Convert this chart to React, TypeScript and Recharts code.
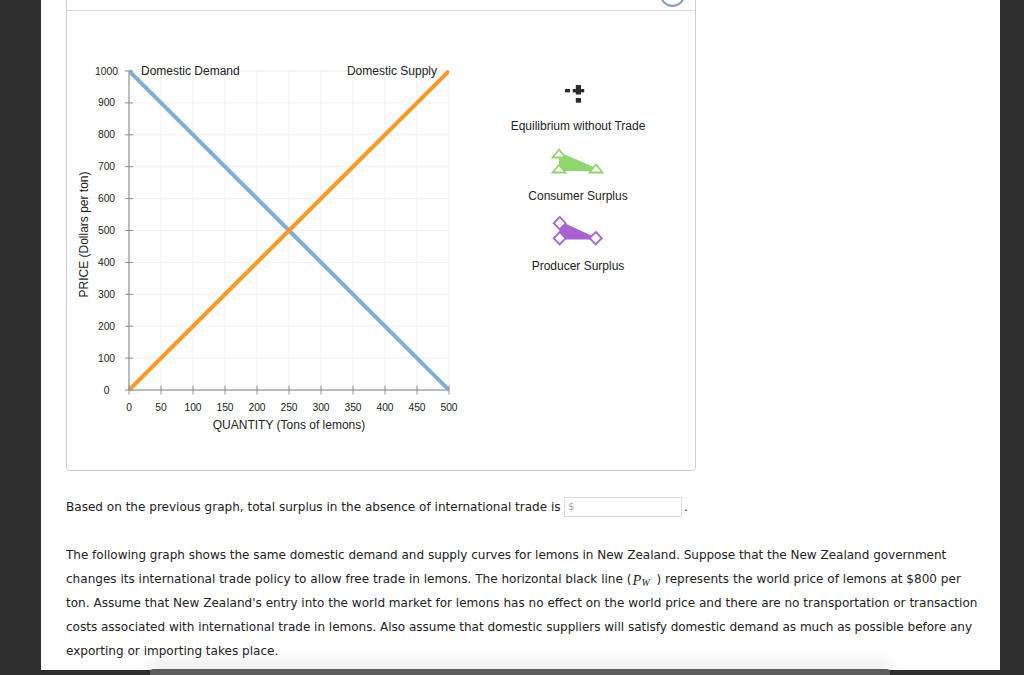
import React from "react";
import { LineChart, Line, XAxis, YAxis, CartesianGrid, ReferenceDot } from "recharts";

const quantityTicks = [0, 50, 100, 150, 200, 250, 300, 350, 400, 450, 500];
const priceTicks = [0, 100, 200, 300, 400, 500, 600, 700, 800, 900, 1000];
const quantities = [0, 250, 500];
const demandPrices = [1000, 500, 0];
const supplyPrices = [0, 500, 1000];
const chartData = quantities.map((q, i) => ({ q, demand: demandPrices[i], supply: supplyPrices[i] }));

const demandLabel = "Domestic Demand";
const supplyLabel = "Domestic Supply";
const xTitle = "QUANTITY (Tons of lemons)";
const yTitle = "PRICE (Dollars per ton)";
const legendLabels = ["Equilibrium without Trade", "Consumer Surplus", "Producer Surplus"];
const questionText = "Based on the previous graph, total surplus in the absence of international trade is";
const firstLine = "The following graph shows the same domestic demand and supply curves for lemons in New Zealand. Suppose that the New Zealand government";
const secondLineStart = "changes its international trade policy to allow free trade in lemons. The horizontal black line (";
const secondLineEnd = ") represents the world price of lemons at $800 per";
const thirdLine = "ton. Assume that New Zealand's entry into the world market for lemons has no effect on the world price and there are no transportation or transaction";
const fourthLine = "costs associated with international trade in lemons. Also assume that domestic suppliers will satisfy domestic demand as much as possible before any";
const fifthLine = "exporting or importing takes place.";

const chartFont = "'Liberation Sans', Arial, sans-serif";
const bodyFont = "'DejaVu Sans', Verdana, sans-serif";
const bodySize = 12.05;

const XTick = (props: any) => {
  const { x, y, payload } = props;
  return (
    <g>
      <line x1={x} x2={x} y1={y - 12.5} y2={y - 3.5} stroke="#8f8f8f" strokeWidth={1} />
      <text x={x} y={y + 12.5} textAnchor="middle" fontSize={10.3} fontFamily={chartFont} fill="#222">
        {payload.value}
      </text>
    </g>
  );
};

const YTick = (props: any) => {
  const { x, y, payload } = props;
  return (
    <g>
      <line x1={x + 4} x2={x + 12} y1={y} y2={y} stroke="#8f8f8f" strokeWidth={1} />
      <text x={x - 14.5} y={y + 3.5} textAnchor="middle" fontSize={10.3} fontFamily={chartFont} fill="#222">
        {payload.value}
      </text>
    </g>
  );
};

const CurveLabel = (props: any) => {
  const { viewBox, text, anchor, dx } = props;
  return (
    <text x={viewBox.x + dx} y={viewBox.y + 4} textAnchor={anchor} fontSize={12} fontFamily={chartFont} fill="#222">
      {text}
    </text>
  );
};

const LegendLabel = ({ top, children }: any) => (
  <div style={{ position: "absolute", left: 478, width: 200, top, textAlign: "center", font: `12px ${chartFont}`, color: "#222", whiteSpace: "nowrap" }}>
    {children}
  </div>
);

const BodyLine = ({ top, spacing, children }: any) => (
  <div style={{ position: "absolute", left: 66, top, height: 16, lineHeight: "16px", fontFamily: bodyFont, fontSize: bodySize, letterSpacing: spacing, color: "#222", whiteSpace: "nowrap" }}>
    {children}
  </div>
);

export default function App() {
  return (
    <div style={{ position: "absolute", left: 0, top: 0, width: 1024, height: 675, overflow: "hidden", background: "#2f2f2f" }}>
      <div style={{ position: "absolute", left: 41, top: 0, width: 959, height: 670, background: "#fff" }} />
      <div style={{ position: "absolute", left: 150, top: 669, width: 740, height: 8, background: "#5d5d5d", borderRadius: "3px 3px 0 0", boxShadow: "0 -6px 14px rgba(0,0,0,0.12)" }} />
      <div style={{ position: "absolute", left: 66, top: -20, width: 628, height: 489, border: "1px solid #cfcfcf", borderRadius: 4 }} />
      <div style={{ position: "absolute", left: 67, top: 10, width: 628, height: 1, background: "#dedede" }} />
      <div style={{ position: "absolute", left: 660, top: -18, width: 21, height: 21, border: "2px solid #7c9dbf", borderRadius: "50%", background: "#fff" }} />

      <div style={{ position: "absolute", left: 0, top: 0 }}>
        <LineChart
          width={1024}
          height={675}
          data={chartData}
          margin={{ left: 89, top: 71, right: 575, bottom: 245 }}
        >
          <CartesianGrid stroke="#f2f2f2" strokeWidth={1} horizontalValues={priceTicks} verticalValues={quantityTicks} />
          <XAxis
            dataKey="q"
            type="number"
            domain={[0, 500]}
            ticks={quantityTicks}
            interval={0}
            height={40}
            tickLine={false}
            tick={<XTick />}
            axisLine={{ stroke: "#a8a8a8", strokeWidth: 1.5 }}
            allowDataOverflow
            label={{ value: xTitle, position: "insideBottom", offset: 1, fontSize: 12, fontFamily: chartFont, fill: "#222" }}
          />
          <YAxis
            type="number"
            domain={[0, 1000]}
            ticks={priceTicks}
            interval={0}
            width={40}
            tickLine={false}
            tick={<YTick />}
            axisLine={{ stroke: "#a8a8a8", strokeWidth: 1.5 }}
            label={{ value: yTitle, angle: -90, position: "insideLeft", dx: -10, dy: 67, fontSize: 12, fontFamily: chartFont, fill: "#222" }}
          />
          <Line dataKey="demand" stroke="#82aed3" strokeWidth={4} dot={false} isAnimationActive={false} />
          <Line dataKey="supply" stroke="#fb982a" strokeWidth={4} dot={false} isAnimationActive={false} />
          <ReferenceDot x={0} y={1000} r={0} stroke="none" label={<CurveLabel text={demandLabel} anchor="start" dx={12} />} />
          <ReferenceDot x={500} y={1000} r={0} stroke="none" label={<CurveLabel text={supplyLabel} anchor="end" dx={-12} />} />
        </LineChart>
      </div>

      <svg width={1024} height={300} style={{ position: "absolute", left: 0, top: 0 }}>
        <g fill="#2b2b2b">
          <rect x={565} y={89} width={5} height={3.4} />
          <rect x={572.7} y={89} width={11.5} height={3.4} />
          <rect x={575.8} y={85} width={5.2} height={9.5} />
          <rect x={575.8} y={98} width={5.2} height={4.7} />
        </g>
        <polygon points="559,152 596,168 596,171 559,171" fill="#8fd670" />
        <g fill="#fff" stroke="#8fd670" strokeWidth={1.8}>
          <polygon points="559,149.5 552.5,157.5 565.5,157.5" />
          <polygon points="559,165 552.5,172.5 565.5,172.5" />
          <polygon points="596,164.5 589.5,172.5 602.5,172.5" />
        </g>
        <polygon points="559.7,221 595.7,237.5 595.7,239.5 559.7,239.5" fill="#a863d0" />
        <g fill="#fff" stroke="#a863d0" strokeWidth={1.8}>
          <polygon points="559.7,217 565.7,223.2 559.7,229.4 553.7,223.2" />
          <polygon points="559.7,232 565.7,238.2 559.7,244.4 553.7,238.2" />
          <polygon points="595.7,232 601.7,238.2 595.7,244.4 589.7,238.2" />
        </g>
      </svg>
      <LegendLabel top={119}>{legendLabels[0]}</LegendLabel>
      <LegendLabel top={189}>{legendLabels[1]}</LegendLabel>
      <LegendLabel top={259}>{legendLabels[2]}</LegendLabel>

      <BodyLine top={499}>{questionText}</BodyLine>
      <div style={{ position: "absolute", left: 564, top: 497, width: 113, height: 18, border: "1px solid #dcdcdc", fontFamily: bodyFont, fontSize: 10, lineHeight: "18px", color: "#aaa", paddingLeft: 3, boxSizing: "content-box" }}>$</div>
      <BodyLine top={499}><span style={{ position: "absolute", left: 618 }}>.</span></BodyLine>
      <BodyLine top={547} spacing={-0.03}>{firstLine}</BodyLine>
      <BodyLine top={571}>
        {secondLineStart}
        <span style={{ position: "relative", display: "inline-block", width: 25, height: 16, verticalAlign: "top", lineHeight: 0 }}>
          <span style={{ position: "absolute", left: 1, top: 9, fontFamily: "'Liberation Serif', serif", fontStyle: "italic", fontSize: 14.5 }}>P</span>
          <span style={{ position: "absolute", left: 10, top: 12, fontFamily: "'Liberation Serif', serif", fontStyle: "italic", fontSize: 10 }}>W</span>
        </span>
        {secondLineEnd}
      </BodyLine>
      <BodyLine top={595}>{thirdLine}</BodyLine>
      <BodyLine top={619} spacing={-0.027}>{fourthLine}</BodyLine>
      <BodyLine top={643}>{fifthLine}</BodyLine>
    </div>
  );
}
